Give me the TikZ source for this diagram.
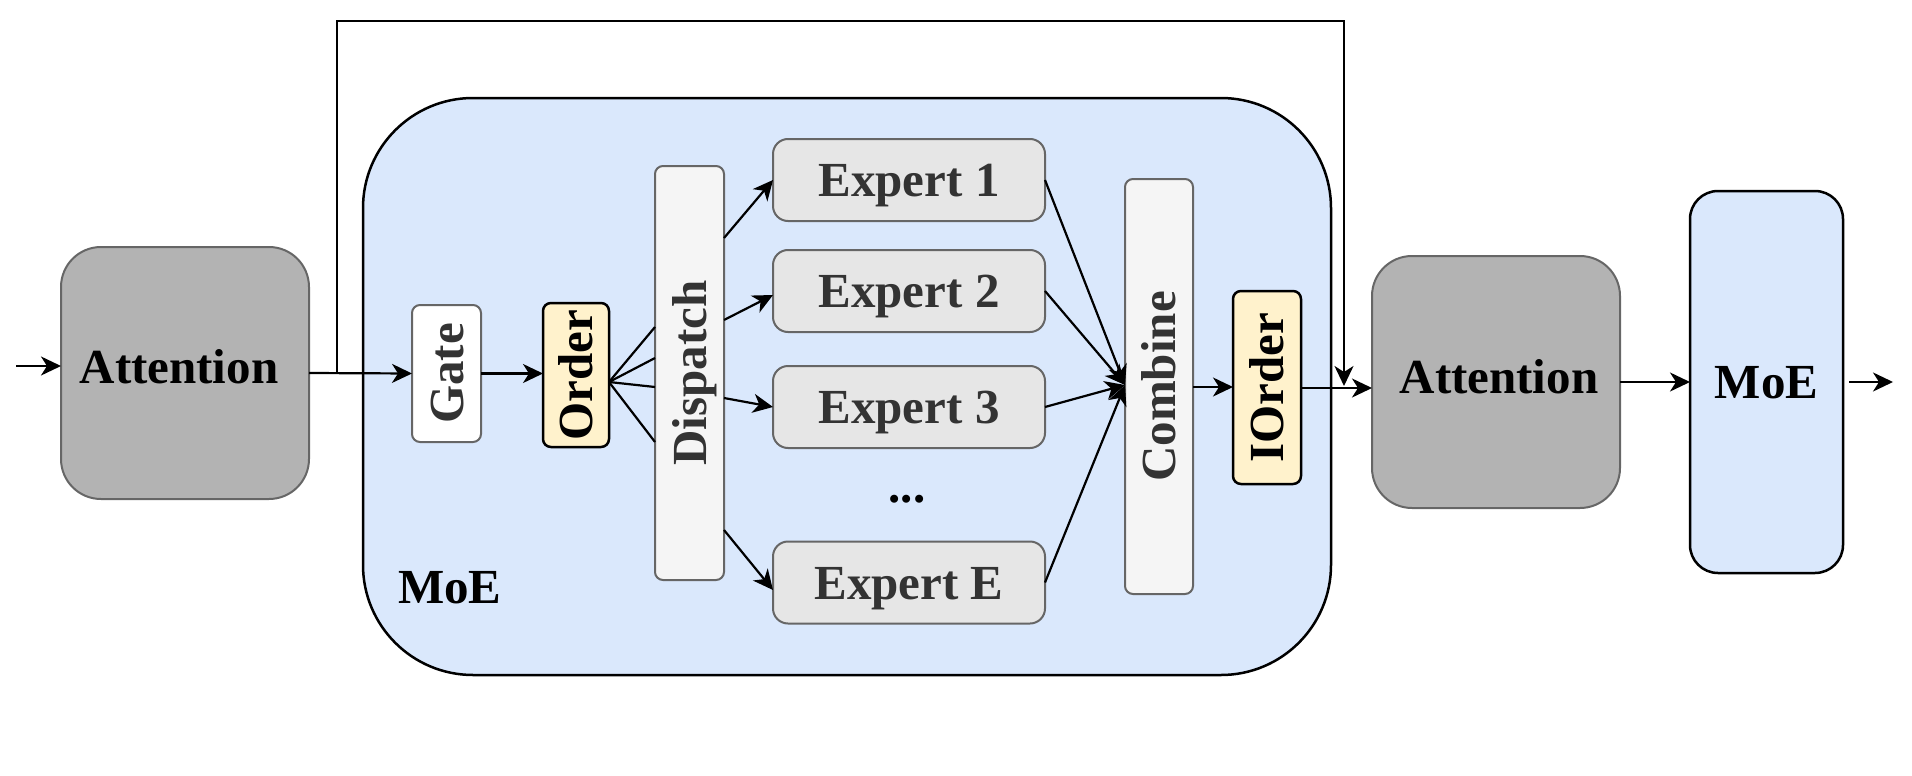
\documentclass[tikz,border=0pt]{standalone}
\usepackage{fontspec}
\setmainfont{Liberation Serif}
\usetikzlibrary{arrows.meta}
\definecolor{cline}{HTML}{666666}
\definecolor{cattn}{HTML}{B3B3B3}
\definecolor{cmoe}{HTML}{DAE8FC}
\definecolor{corder}{HTML}{FFF2CC}
\definecolor{cpanel}{HTML}{F5F5F5}
\definecolor{cexp}{HTML}{E6E6E6}
\definecolor{ctext}{HTML}{333333}
\begin{document}
\begin{tikzpicture}[x=1pt,y=-1pt,
  every node/.style={font=\fontsize{49}{55}\selectfont\bfseries, inner sep=0pt, outer sep=0pt},
  attn/.style={draw=cline, fill=cattn, line width=2pt, rounded corners=40pt,
    minimum width=248pt, minimum height=252pt},
  ctext33/.style={text height=33pt, text depth=0pt},
  bigmoe/.style={draw=black, fill=cmoe, line width=2.5pt, rounded corners=110pt,
    minimum width=968pt, minimum height=577pt},
  smallmoe/.style={draw=black, fill=cmoe, line width=2.5pt, rounded corners=28pt,
    minimum width=153pt, minimum height=382pt, text height=33pt, text depth=0pt},
  gatebox/.style={draw=cline, fill=white, line width=2pt, rounded corners=8pt},
  orderbox/.style={draw=black, fill=corder, line width=2.5pt, rounded corners=8pt},
  panelbox/.style={draw=cline, fill=cpanel, line width=2pt, rounded corners=8pt},
  expbox/.style={draw=cline, fill=cexp, line width=2pt, rounded corners=15pt,
    minimum width=272pt, minimum height=82pt, text height=33pt, text depth=0pt, text=ctext},
  vtext/.style={rotate=90, text height=33pt, text depth=0pt},
  arr/.style={line width=2.2pt, -{Stealth[length=20pt,width=19pt,inset=6pt]}},
  plain/.style={line width=2.2pt},
]
\useasboundingbox (0,0) rectangle (1912,776);

% big MoE container
\node[bigmoe] (moe) at (847,386.5) {};
\node[anchor=base west] (moelabel) at (398,603) {MoE};

% left attention
\node[attn] (att1) at (185,373) {};
\node[ctext33] (att1T) at (179,367) {Attention};

% gate, order, dispatch
\node[gatebox, minimum width=69pt, minimum height=137pt] (gate) at (446.5,373.5) {};
\node[vtext, text=ctext] (gateT) at (gate.center) {Gate};
\node[orderbox, minimum width=66pt, minimum height=144pt] (order) at (576,375) {};
\node[vtext] (orderT) at (order.center) {Order};
\node[panelbox, minimum width=69pt, minimum height=414pt] (dispatch) at (689.5,373) {};
\node[vtext, text=ctext] (dispatchT) at (dispatch.center) {Dispatch};

% experts
\node[expbox] (e1) at (909,180) {Expert 1};
\node[expbox] (e2) at (909,291) {Expert 2};
\node[expbox] (e3) at (909,407) {Expert 3};
\node[expbox] (ee) at (909,582.5) {Expert E};
\node[anchor=base] (dots) at (907,502) {...};

% combine, iorder
\node[panelbox, minimum width=68pt, minimum height=415pt] (combine) at (1159,386.5) {};
\node[vtext, text=ctext] (combineT) at (combine.center) {Combine};
\node[orderbox, minimum width=68pt, minimum height=193pt] (iorder) at (1267,387.5) {};
\node[vtext] (iorderT) at (iorder.center) {IOrder};

% right attention and MoE
\node[attn] (att2) at (1496,382) {};
\node[ctext33] (att2T) at (1499,376.5) {Attention};
\node[smallmoe] (moe2) at (1766.5,382) {MoE};

% helper coordinates
\coordinate (inp) at (16,366);
\coordinate (outp) at (1893,382);
\coordinate (fbS) at (337,373);
\coordinate (fbL) at (337,21);
\coordinate (fbR) at (1344,21);
\coordinate (fbE) at (1344,386);
\coordinate (oOut) at (609,382);
\coordinate (yd1) at (0,327);
\coordinate (yd2) at (0,358);
\coordinate (yd3) at (0,387);
\coordinate (yd4) at (0,442);
\coordinate (ys1) at (0,238);
\coordinate (ys2) at (0,320);
\coordinate (ys3) at (0,398);
\coordinate (ys4) at (0,530);
\coordinate (yt2) at (0,295);
\coordinate (yt4) at (0,590);
\coordinate (yc) at (0,385);
\coordinate (yci) at (0,387);
\coordinate (yio) at (0,388);

% connectors
\draw[arr] (inp) -- (inp -| att1.west);
\draw[arr] (att1.east) -- (gate.west);
\draw[arr] (fbS) -- (fbL) -- (fbR) -- (fbE);
\draw[arr] (gate.east) -- (gate.east -| order.west);
\draw[plain] (oOut) -- (dispatch.west |- yd1);
\draw[plain] (oOut) -- (dispatch.west |- yd2);
\draw[plain] (oOut) -- (dispatch.west |- yd3);
\draw[plain] (oOut) -- (dispatch.west |- yd4);
\draw[arr] (dispatch.east |- ys1) -- (e1.west);
\draw[arr] (dispatch.east |- ys2) -- (e2.west |- yt2);
\draw[arr] (dispatch.east |- ys3) -- (e3.west);
\draw[arr] (dispatch.east |- ys4) -- (ee.west |- yt4);
\draw[arr] (e1.east) -- (combine.west |- yc);
\draw[arr] (e2.east) -- (combine.west |- yc);
\draw[arr] (e3.east) -- (combine.west |- yc);
\draw[arr] (ee.east) -- (combine.west |- yc);
\draw[arr] (combine.east |- yci) -- (iorder.west |- yci);
\draw[arr] (iorder.east |- yio) -- (att2.west |- yio);
\draw[arr] (att2.east) -- (moe2.west);
\draw[arr] ([xshift=6pt]moe2.east) -- (outp);
\end{tikzpicture}
\end{document}
